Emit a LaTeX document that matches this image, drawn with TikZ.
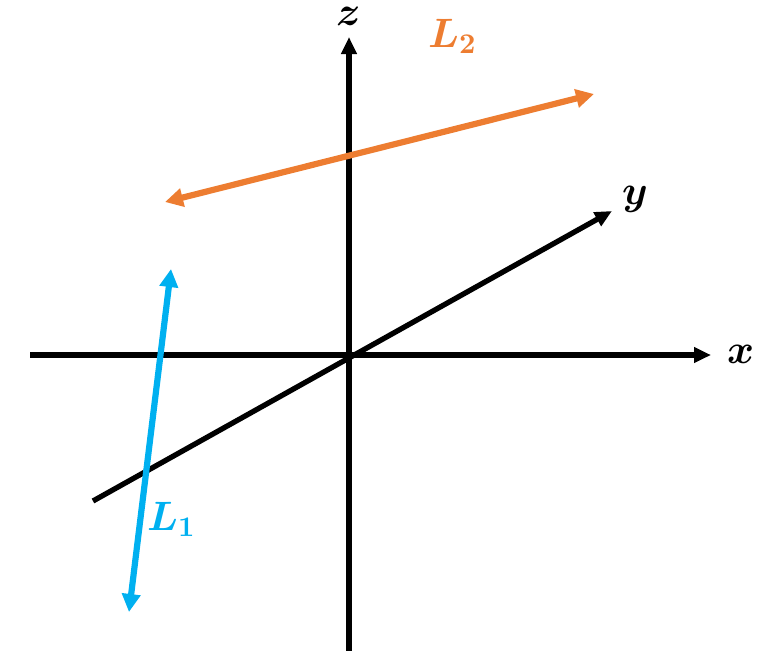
\documentclass[tikz,border=0pt]{standalone}
\usepackage{graphicx}
\usepackage{amsmath,bm}
\usetikzlibrary{arrows.meta}
\definecolor{lorange}{HTML}{ED7D31}
\definecolor{lblue}{HTML}{00B0F0}
\newcommand{\biglab}[1]{\scalebox{2.85}{\Large$\bm{#1}$}}
\begin{document}
\begin{tikzpicture}[x=1pt,y=-1pt,
  axis/.style={line width=5.3pt,draw=black,-{Triangle[length=17pt,width=15pt]}},
  linel/.style={line width=6.2pt,{Triangle[length=18pt,width=18pt]}-{Triangle[length=18pt,width=18pt]}},
  lab/.style={inner sep=0pt,anchor=base west}]
\useasboundingbox (0,0) rectangle (780,651);
\coordinate (zs) at (349,651); \coordinate (ze) at (349,37);
\coordinate (xs) at (30,355); \coordinate (xe) at (711,355);
\coordinate (ys) at (93,501); \coordinate (ye) at (612,211);
\coordinate (l2a) at (165,202); \coordinate (l2b) at (594,94);
\coordinate (l1a) at (171,269); \coordinate (l1b) at (129,612);
\draw[axis] (zs) -- (ze);
\draw[axis] (xs) -- (xe);
\draw[axis] (ys) -- (ye);
\draw[linel,draw=lorange,color=lorange] (l2a) -- (l2b);
\draw[linel,draw=lblue,color=lblue] (l1b) -- (l1a);
\node[lab] (zl) at (336,25) {\biglab{z}};
\node[lab] (xl) at (727,363) {\biglab{x}};
\node[lab] (yl) at (622,204) {\biglab{y}};
\node[lab,text=lorange] (L2) at (428,47) {\biglab{L_2}};
\node[lab,text=lblue] (L1) at (147,530) {\biglab{L_1}};
\end{tikzpicture}
\end{document}
